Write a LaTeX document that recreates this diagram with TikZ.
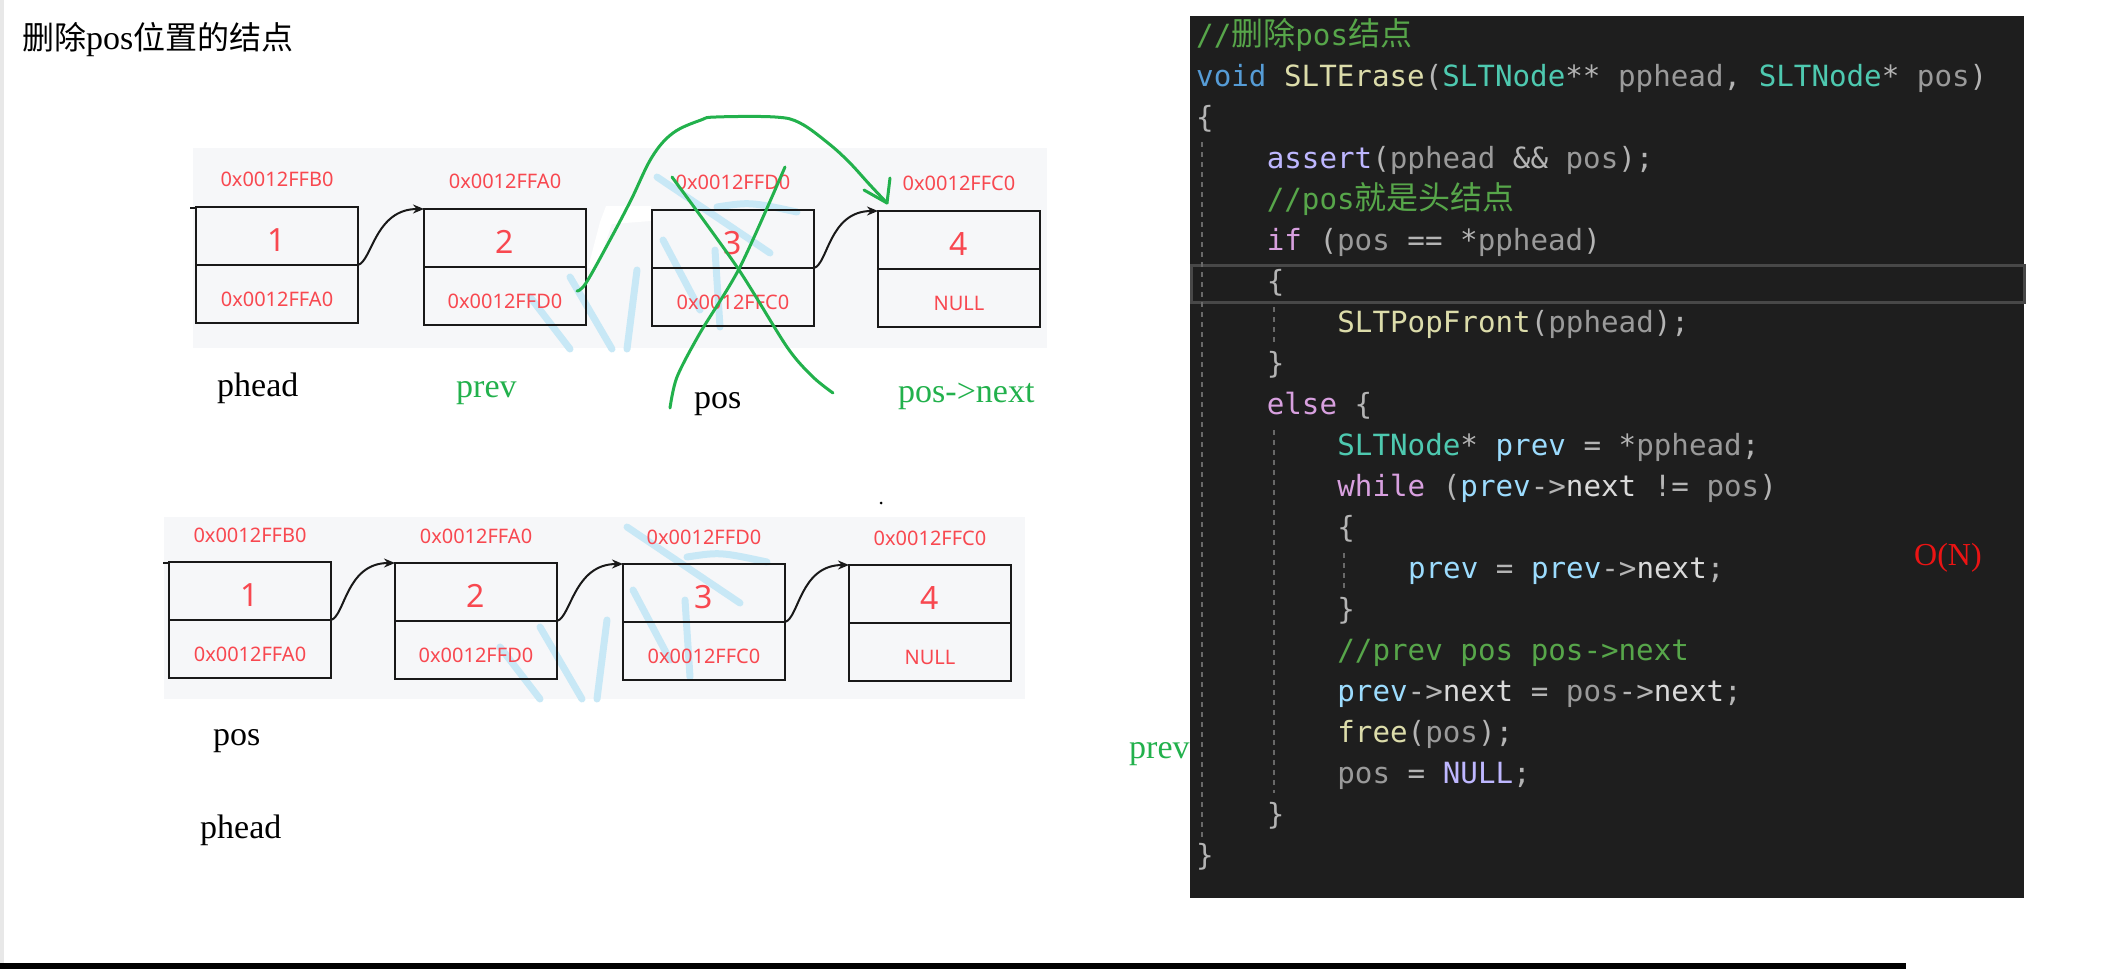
\documentclass[tikz,border=0pt]{standalone}
\usepackage{fontspec}
\setmainfont{Liberation Serif}
\newfontfamily\cjk{Noto Sans CJK SC}
\newfontfamily\codefont{DejaVu Sans Mono}
\newfontfamily\boxfont{Noto Sans}
\usetikzlibrary{arrows.meta,calc}
\definecolor{boxred}{RGB}{248,72,80}
\definecolor{paintgreen}{RGB}{34,177,76}
\definecolor{bgpanel}{RGB}{246,247,249}
\definecolor{wmblue}{RGB}{200,232,246}
\definecolor{codebg}{RGB}{30,30,30}
\definecolor{ccomment}{RGB}{87,166,74}
\definecolor{ckeyword}{RGB}{86,156,214}
\definecolor{cfunc}{RGB}{220,220,170}
\definecolor{ctype}{RGB}{78,201,176}
\definecolor{cparam}{RGB}{154,154,154}
\definecolor{cpunct}{RGB}{180,180,180}
\definecolor{cmacro}{RGB}{190,183,255}
\definecolor{cctrl}{RGB}{216,160,223}
\definecolor{cvar}{RGB}{156,220,254}
\definecolor{cmember}{RGB}{218,218,218}
\definecolor{guidegray}{RGB}{105,105,105}
\definecolor{hlgray}{RGB}{72,72,72}
\definecolor{onred}{RGB}{235,20,20}
\definecolor{edgegray}{RGB}{232,232,232}
\newcommand\tkw[1]{\textcolor{ckeyword}{#1}}
\newcommand\tfn[1]{\textcolor{cfunc}{#1}}
\newcommand\tty[1]{\textcolor{ctype}{#1}}
\newcommand\tpa[1]{\textcolor{cparam}{#1}}
\newcommand\tpu[1]{\textcolor{cpunct}{#1}}
\newcommand\tma[1]{\textcolor{cmacro}{#1}}
\newcommand\tct[1]{\textcolor{cctrl}{#1}}
\newcommand\tva[1]{\textcolor{cvar}{#1}}
\newcommand\tme[1]{\textcolor{cmember}{#1}}
\newcommand\tcm[1]{\textcolor{ccomment}{#1}}
\newcommand\cjkcode[1]{{\cjk\fontsize{32}{36}\selectfont #1}}
\begin{document}
\begin{tikzpicture}[x=1pt,y=-1pt,
  cellbox/.style={draw=black!90, line width=2.4pt, minimum width=162pt, minimum height=58pt, inner sep=0pt, outer sep=0pt},
  addr/.style={font=\boxfont\fontsize{20}{24}\selectfont, text=boxred, inner sep=0pt},
  numtxt/.style={font=\boxfont\fontsize{32}{36}\selectfont, text=boxred, inner sep=0pt},
  link/.style={draw=black!90, line width=2pt, -{Stealth[length=11pt,width=9pt]}},
  lbl/.style={font=\fontsize{34}{40}\selectfont, anchor=base west, inner sep=0pt},
  greenstroke/.style={draw=paintgreen, line width=3pt, line cap=round, line join=round},
  wm/.style={draw=wmblue, line width=7pt, line cap=round},
  codeline/.style={anchor=base west, inner sep=0pt, font=\codefont\fontsize{29.2}{35}\selectfont},
  guide/.style={draw=guidegray, line width=1.5pt, dash pattern=on 5pt off 5pt}
]
\useasboundingbox (0,0) rectangle (2105,969);
\fill[white] (0,0) rectangle (2105,969);
\fill[edgegray] (0,0) rectangle (4,963);

% title
\node[anchor=base west, inner sep=0pt] (title) at (22,49)
  {{\cjk\fontsize{32}{36}\selectfont 删除}{\fontsize{34}{40}\selectfont pos}{\cjk\fontsize{32}{36}\selectfont 位置的结点}};

% ================= top diagram =================
\fill[bgpanel] (193,148) rectangle (1047,348);
\fill[white] (606,206) -- (651,206) -- (651,221) -- (612,224) -- (596,270) -- (588,268) -- (600,222) -- cycle;
\begin{scope}[shift={(30,-350)}]
\draw[wm] (627,527) -- (740,603);
\draw[wm] (687,557) .. controls (720,552) .. (767,562);
\draw[wm] (685,600) -- (690,677);
\draw[wm] (633,590) -- (670,660);
\draw[wm] (540,627) -- (582,699);
\draw[wm] (607,620) -- (597,699);
\draw[wm] (500,647) -- (540,699);
\end{scope}

\node[cellbox, anchor=north west] (t1a) at (196,207) {};
\node[cellbox, anchor=north] (t1b) at (t1a.south) {};
\node[cellbox, anchor=north west] (t2a) at (424,209) {};
\node[cellbox, anchor=north] (t2b) at (t2a.south) {};
\node[cellbox, anchor=north west] (t3a) at (652,210) {};
\node[cellbox, anchor=north] (t3b) at (t3a.south) {};
\node[cellbox, anchor=north west] (t4a) at (878,211) {};
\node[cellbox, anchor=north] (t4b) at (t4a.south) {};

\node[addr] (ta1) at ($(t1a.north)+(0,-28)$) {0x0012FFB0};
\node[addr] (ta2) at ($(t2a.north)+(0,-28)$) {0x0012FFA0};
\node[addr] (ta3) at ($(t3a.north)+(0,-28)$) {0x0012FFD0};
\node[addr] (ta4) at ($(t4a.north)+(0,-28)$) {0x0012FFC0};
\node[numtxt] (tn1) at ($(t1a.center)+(0,4)$) {1};
\node[numtxt] (tn2) at ($(t2a.center)+(0,4)$) {2};
\node[numtxt] (tn3) at ($(t3a.center)+(0,4)$) {3};
\node[numtxt] (tn4) at ($(t4a.center)+(0,4)$) {4};
\node[addr] (tb1) at ($(t1b.center)+(0,5)$) {0x0012FFA0};
\node[addr] (tb2) at ($(t2b.center)+(0,5)$) {0x0012FFD0};
\node[addr] (tb3) at ($(t3b.center)+(0,5)$) {0x0012FFC0};
\node[addr] (tb4) at ($(t4b.center)+(0,5)$) {NULL};

\draw[link] (t1a.south east) .. controls +(14,-4) and +(-49,0) .. (t2a.north west);
\draw[link] (t3a.south east) .. controls +(14,-4) and +(-49,0) .. (t4a.north west);
\draw[black!90, line width=2pt] (190,208) -- (197,208);

\node[lbl] (tphead) at (217,396) {phead};
\node[lbl, text=paintgreen] (tprev) at (456,397) {prev};
\node[lbl] (tpos) at (694,408) {pos};
\node[lbl, text=paintgreen] (tnext) at (898,402) {pos->next};

% green hand strokes
\draw[greenstroke] plot[smooth, tension=0.6] coordinates {(577,291) (586,283) (610,240) (631,200) (652,157) (673,133) (701,120) (716,117) (775,117) (800,123) (828,143) (849,162) (870,185) (887,203)};
\draw[greenstroke] (864,190) -- (887,203);
\draw[greenstroke] (890,178) -- (887,203);
\draw[greenstroke] plot[smooth] coordinates {(672,177) (737,267) (787,347) (813,377) (833,393)};
\draw[greenstroke] plot[smooth] coordinates {(785,167) (740,267) (700,333) (677,377) (670,408)};

% ================= bottom diagram =================
\fill[bgpanel] (164,517) rectangle (1025,699);
\begin{scope}
\draw[wm] (627,527) -- (740,603);
\draw[wm] (687,557) .. controls (720,552) .. (767,562);
\draw[wm] (685,600) -- (690,677);
\draw[wm] (633,590) -- (670,660);
\draw[wm] (540,627) -- (582,699);
\draw[wm] (607,620) -- (597,699);
\draw[wm] (500,647) -- (540,699);
\end{scope}

\node[cellbox, anchor=north west] (b1a) at (169,562) {};
\node[cellbox, anchor=north] (b1b) at (b1a.south) {};
\node[cellbox, anchor=north west] (b2a) at (395,563) {};
\node[cellbox, anchor=north] (b2b) at (b2a.south) {};
\node[cellbox, anchor=north west] (b3a) at (623,564) {};
\node[cellbox, anchor=north] (b3b) at (b3a.south) {};
\node[cellbox, anchor=north west] (b4a) at (849,565) {};
\node[cellbox, anchor=north] (b4b) at (b4a.south) {};

\node[addr] (ba1) at ($(b1a.north)+(0,-27)$) {0x0012FFB0};
\node[addr] (ba2) at ($(b2a.north)+(0,-27)$) {0x0012FFA0};
\node[addr] (ba3) at ($(b3a.north)+(0,-27)$) {0x0012FFD0};
\node[addr] (ba4) at ($(b4a.north)+(0,-27)$) {0x0012FFC0};
\node[numtxt] (bn1) at ($(b1a.center)+(0,4)$) {1};
\node[numtxt] (bn2) at ($(b2a.center)+(0,4)$) {2};
\node[numtxt] (bn3) at ($(b3a.center)+(0,4)$) {3};
\node[numtxt] (bn4) at ($(b4a.center)+(0,4)$) {4};
\node[addr] (bb1) at ($(b1b.center)+(0,5)$) {0x0012FFA0};
\node[addr] (bb2) at ($(b2b.center)+(0,5)$) {0x0012FFD0};
\node[addr] (bb3) at ($(b3b.center)+(0,5)$) {0x0012FFC0};
\node[addr] (bb4) at ($(b4b.center)+(0,5)$) {NULL};

\draw[link] (b1a.south east) .. controls +(14,-4) and +(-49,0) .. (b2a.north west);
\draw[link] (b2a.south east) .. controls +(14,-4) and +(-49,0) .. (b3a.north west);
\draw[link] (b3a.south east) .. controls +(14,-4) and +(-49,0) .. (b4a.north west);
\draw[black!90, line width=2pt] (163,563) -- (170,563);
\fill[black] (881,503) circle (1.5);

\node[lbl] (bpos) at (213,745) {pos};
\node[lbl] (bphead) at (200,838) {phead};
\node[lbl, text=paintgreen] (bprev) at (1129,758) {prev};

% ================= code panel =================
\fill[codebg] (1190,16) rectangle (2024,898);
\draw[hlgray, line width=3pt] (1191,265) rectangle (2024,302);
\draw[guide] (1202,142) -- (1202,837);
\draw[guide] (1274,307) -- (1274,343);
\draw[guide] (1274,430) -- (1274,793);
\draw[guide] (1344,553) -- (1344,592);

\node[codeline] (c1) at (1196,45.5) {\tcm{//\cjkcode{删除}pos\cjkcode{结点}}};
\node[codeline] (c2) at (1196,86.5) {\tkw{void} \tfn{SLTErase}\tpu{(}\tty{SLTNode}\tpu{**} \tpa{pphead}\tpu{,} \tty{SLTNode}\tpu{*} \tpa{pos}\tpu{)}};
\node[codeline] (c3) at (1196,127.5) {\tpu{\{}};
\node[codeline] (c4) at (1266.6,168.5) {\tma{assert}\tpu{(}\tpa{pphead} \tpu{\&\&} \tpa{pos}\tpu{);}};
\node[codeline] (c5) at (1266.6,209.5) {\tcm{//pos\cjkcode{就是头结点}}};
\node[codeline] (c6) at (1266.6,250.5) {\tct{if} \tpu{(}\tpa{pos} \tpu{==} \tpu{*}\tpa{pphead}\tpu{)}};
\node[codeline] (c7) at (1266.6,291.5) {\tpu{\{}};
\node[codeline] (c8) at (1337.2,332.5) {\tfn{SLTPopFront}\tpu{(}\tpa{pphead}\tpu{);}};
\node[codeline] (c9) at (1266.6,373.5) {\tpu{\}}};
\node[codeline] (c10) at (1266.6,414.5) {\tct{else} \tpu{\{}};
\node[codeline] (c11) at (1337.2,455.5) {\tty{SLTNode}\tpu{*} \tva{prev} \tpu{=} \tpu{*}\tpa{pphead}\tpu{;}};
\node[codeline] (c12) at (1337.2,496.5) {\tct{while} \tpu{(}\tva{prev}\tpu{->}\tme{next} \tpu{!=} \tpa{pos}\tpu{)}};
\node[codeline] (c13) at (1337.2,537.5) {\tpu{\{}};
\node[codeline] (c14) at (1407.8,578.5) {\tva{prev} \tpu{=} \tva{prev}\tpu{->}\tme{next}\tpu{;}};
\node[codeline] (c15) at (1337.2,619.5) {\tpu{\}}};
\node[codeline] (c16) at (1337.2,660.5) {\tcm{//prev pos pos->next}};
\node[codeline] (c17) at (1337.2,701.5) {\tva{prev}\tpu{->}\tme{next} \tpu{=} \tpa{pos}\tpu{->}\tme{next}\tpu{;}};
\node[codeline] (c18) at (1337.2,742.5) {\tfn{free}\tpu{(}\tpa{pos}\tpu{);}};
\node[codeline] (c19) at (1337.2,783.5) {\tpa{pos} \tpu{=} \tma{NULL}\tpu{;}};
\node[codeline] (c20) at (1266.6,824.5) {\tpu{\}}};
\node[codeline] (c21) at (1196,865.5) {\tpu{\}}};

\node[anchor=base west, inner sep=0pt, text=onred, font=\fontsize{32}{36}\selectfont] (on) at (1914,565) {O(N)};

% bottom rule
\fill[black] (0,963) rectangle (1906,969);
\end{tikzpicture}
\end{document}
